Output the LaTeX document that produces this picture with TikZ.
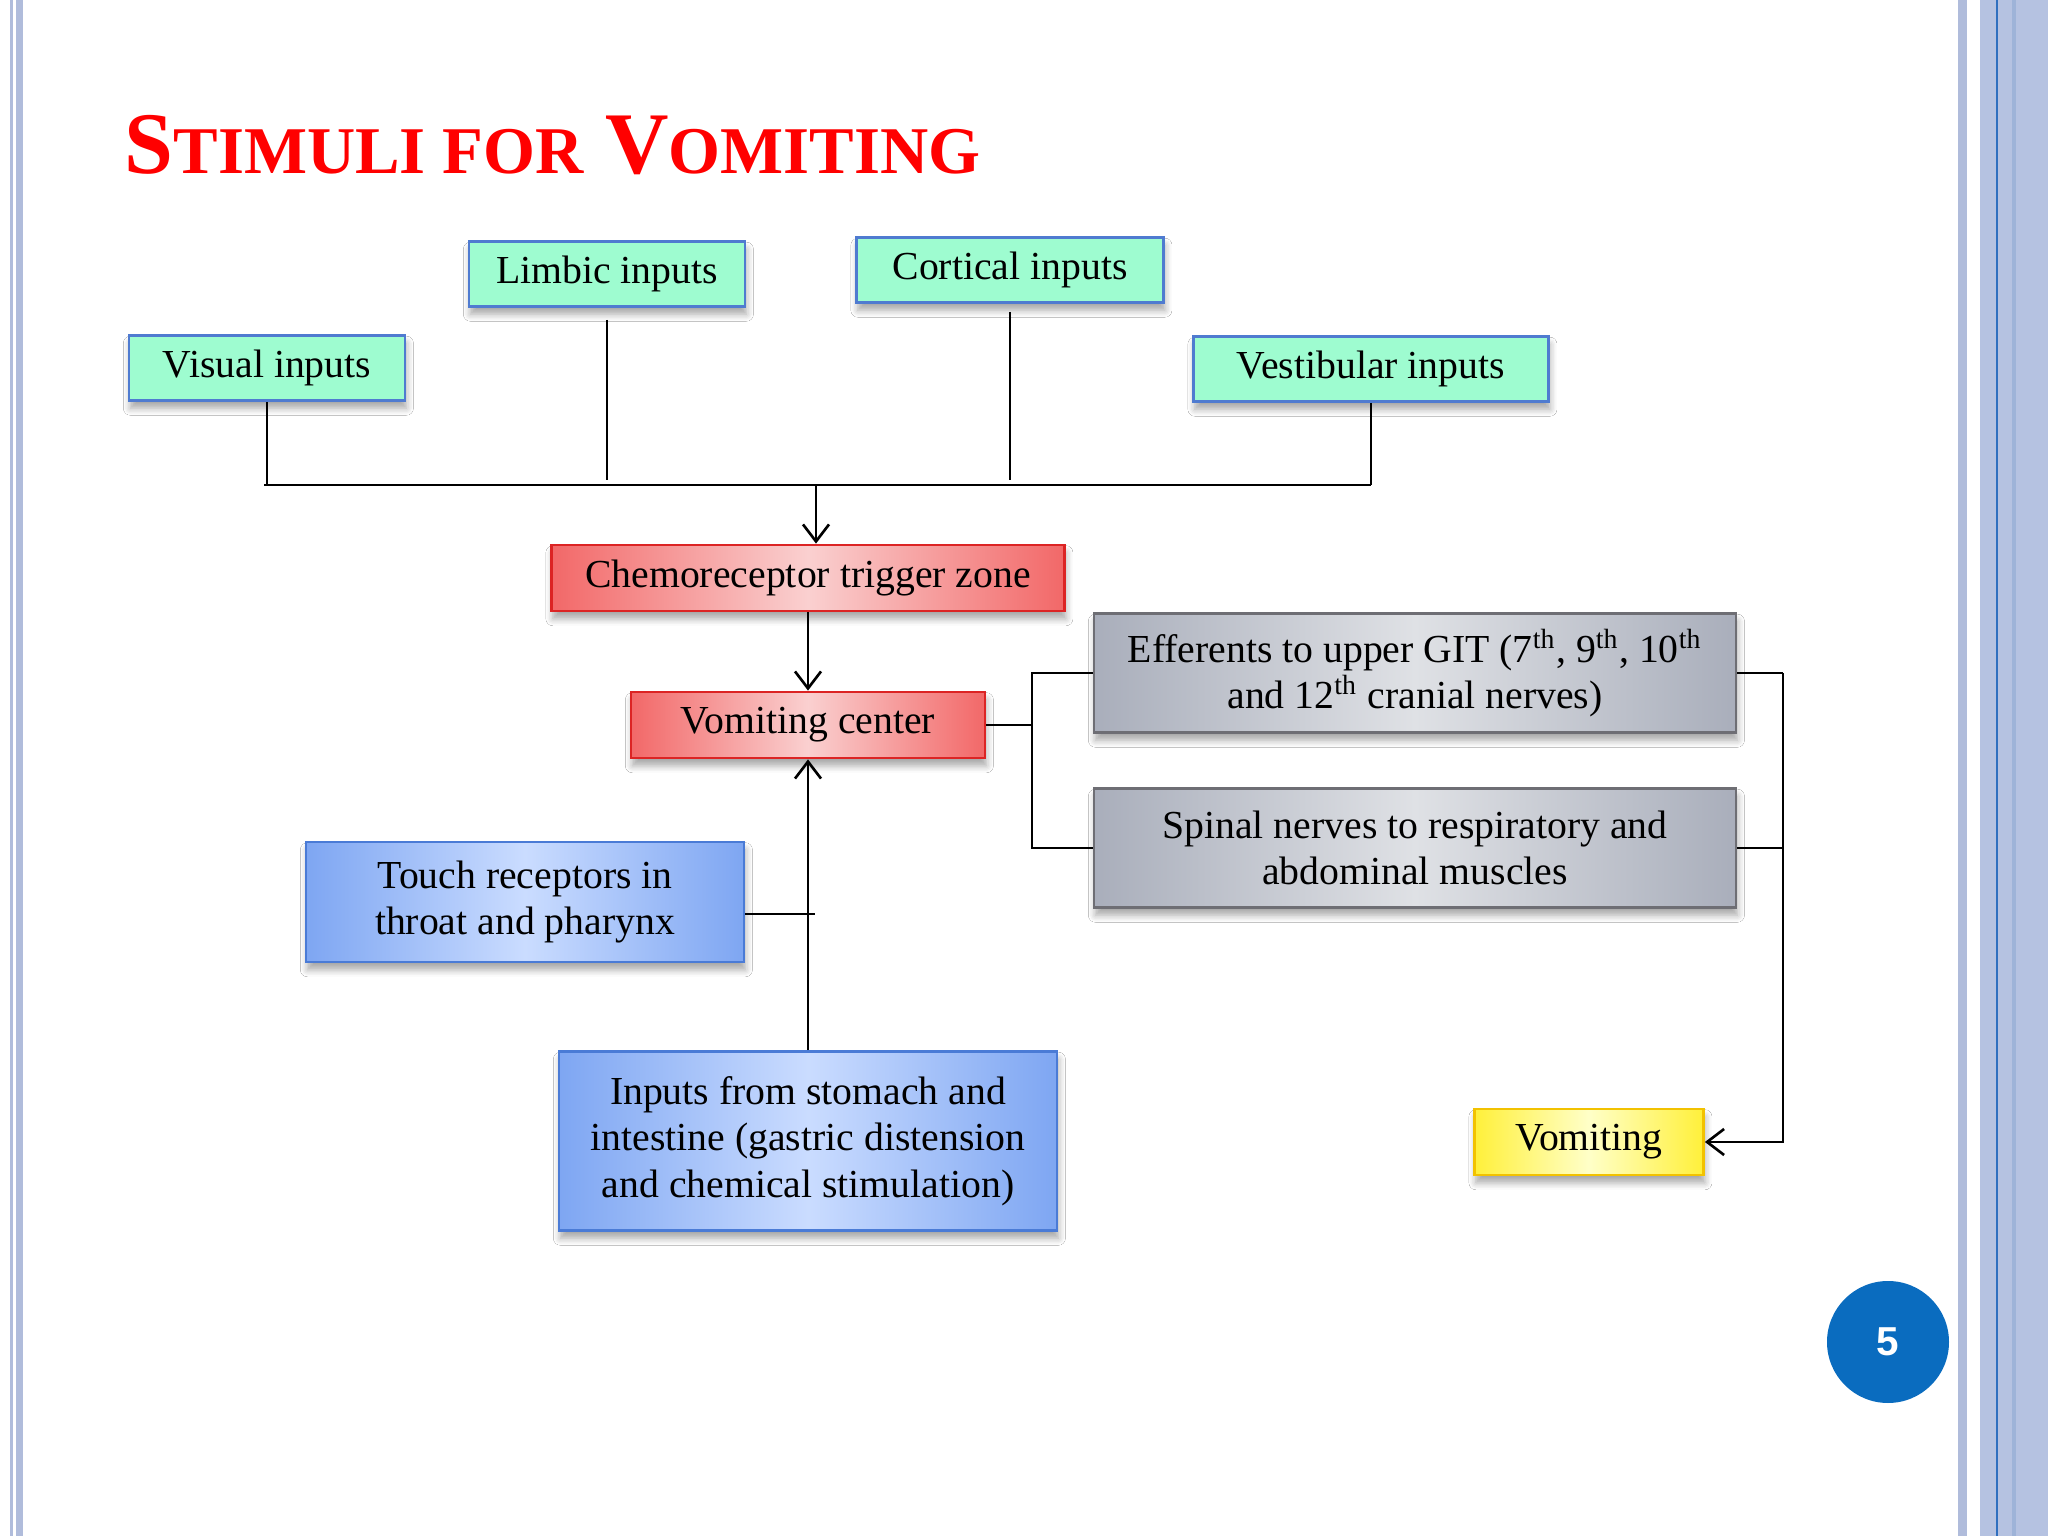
\documentclass[tikz,border=0pt]{standalone}
\usepackage{fontspec}
\setmainfont{Liberation Serif}
\newfontfamily\numfont{Liberation Sans}
\usepackage{xcolor}
\definecolor{titlered}{HTML}{FF0000}
\definecolor{frameblue}{HTML}{B0BCDB}
\definecolor{framewide}{HTML}{B5C2E1}
\definecolor{framedark}{HTML}{9EB3D8}
\definecolor{frameline}{HTML}{2F6FBF}
\definecolor{pageblue}{HTML}{0A6CBF}
\definecolor{mint}{HTML}{9EFCD0}
\definecolor{inputline}{HTML}{4F7BD0}
\definecolor{centreedge}{HTML}{F26868}
\definecolor{centremid}{HTML}{FAD0D0}
\definecolor{centreline}{HTML}{DC2424}
\definecolor{afferentedge}{HTML}{7EA6F2}
\definecolor{afferentmid}{HTML}{CADCFF}
\definecolor{afferentline}{HTML}{4A7BD6}
\definecolor{efferentedge}{HTML}{A9AEBB}
\definecolor{efferentmid}{HTML}{DFE1E5}
\definecolor{efferentline}{HTML}{6E6E74}
\definecolor{outcomeedge}{HTML}{FFF03A}
\definecolor{outcomemid}{HTML}{FFFFC8}
\definecolor{outcomeline}{HTML}{F2C200}
\usetikzlibrary{arrows.meta, positioning, calc, shadows.blur}

\newcommand{\smallcap}[1]{{\fontsize{19}{20}\selectfont #1}}

\begin{document}
\begin{tikzpicture}[
        x=1cm, y=-1cm,
        font=\fontsize{11.3}{13.3}\selectfont,
        link/.style={line width=0.75pt, black},
        arrow_link/.style={link, -{Straight Barb[length=0.17cm, width=0.26cm, line width=0.75pt]}},
        box/.style={
            rectangle,
            draw,
            line width=0.8pt,
            align=center,
            inner sep=2pt,
            blur shadow={shadow xshift=0.4pt, shadow yshift=-2.2pt, shadow blur steps=5, shadow blur radius=2pt, shadow opacity=35}
        },
        input_box/.style={box, draw=inputline, fill=mint, minimum height=0.65cm},
        centre_box/.style={box, draw=centreline, left color=centreedge, right color=centreedge, middle color=centremid, minimum height=0.66cm},
        afferent_box/.style={box, draw=afferentline, left color=afferentedge, right color=afferentedge, middle color=afferentmid},
        efferent_box/.style={box, draw=efferentline, left color=efferentedge, right color=efferentedge, middle color=efferentmid, minimum width=6.42cm, minimum height=1.19cm},
        outcome_box/.style={box, draw=outcomeline, left color=outcomeedge, right color=outcomeedge, middle color=outcomemid, minimum height=0.66cm}
    ]

    % Slide background and frame
    \useasboundingbox (0,0) rectangle (20.48,15.36);
    \fill[white] (0,0) rectangle (20.48,15.36);
    \fill[frameblue] (0.10,0) rectangle (0.13,15.36);
    \fill[frameblue] (0.16,0) rectangle (0.23,15.36);
    \fill[frameblue] (19.58,0) rectangle (19.67,15.36);
    \fill[framewide] (19.80,0) rectangle (20.48,15.36);
    \fill[framedark] (20.12,0) rectangle (20.16,15.36);
    \fill[frameline] (19.96,0) rectangle (19.98,15.36);

    % Title
    \node[anchor=base west, inner sep=0pt, text=titlered, font=\bfseries\fontsize{25}{28}\selectfont] (title) at (1.24,1.74) {S\smallcap{TIMULI FOR} V\smallcap{OMITING}};

    % Higher centre inputs
    \node[input_box, minimum width=2.76cm] (visual) at (2.67,3.68) {Visual inputs};
    \node[input_box, minimum width=2.76cm] (limbic) at (6.07,2.74) {Limbic inputs};
    \node[input_box, minimum width=3.07cm] (cortical) at (10.10,2.70) {Cortical inputs};
    \node[input_box, minimum width=3.55cm] (vestibular) at (13.71,3.69) {Vestibular inputs};

    % Central boxes
    \node[centre_box, minimum width=5.13cm] (ctz) at (8.08,5.78) {Chemoreceptor trigger zone};
    \node[centre_box, minimum width=3.54cm] (vc) at (8.08,7.25) {Vomiting center};

    % Afferents
    \node[afferent_box, minimum width=4.38cm, minimum height=1.20cm] (touch) at (5.25,9.02) {Touch receptors in\\throat and pharynx};
    \node[afferent_box, minimum width=4.98cm, minimum height=1.79cm] (gut) at (8.08,11.41) {Inputs from stomach and\\intestine (gastric distension\\and chemical stimulation)};

    % Efferents and outcome
    \node[efferent_box] (cranial) at (14.15,6.73) {Efferents to upper GIT (7\textsuperscript{th}, 9\textsuperscript{th}, 10\textsuperscript{th}\\and 12\textsuperscript{th} cranial nerves)};
    \node[efferent_box] (spinal) at (14.15,8.48) {Spinal nerves to respiratory and\\abdominal muscles};
    \node[outcome_box, minimum width=2.29cm] (vomiting) at (15.89,11.42) {Vomiting};

    % Input bus
    \coordinate (bus_left) at (2.64,4.85);
    \coordinate (bus_right) at (13.71,4.85);
    \coordinate (bus_drop) at (8.16,4.85);
    \draw[link] (bus_left) -- (bus_right);
    \draw[link] (visual.south) -- (visual.south |- bus_left);
    \draw[link, shorten <=0.12cm, shorten >=0.05cm] (limbic.south) -- (limbic.south |- bus_left);
    \draw[link, shorten <=0.08cm, shorten >=0.05cm] (cortical.south) -- (cortical.south |- bus_left);
    \draw[link] (vestibular.south) -- (bus_right);
    \draw[arrow_link] (bus_drop) -- (bus_drop |- ctz.north);

    % Into the vomiting centre
    \draw[arrow_link] (ctz.south) -- (vc.north);
    \draw[arrow_link] (gut.north) -- (vc.south);
    \draw[link] ($(touch.east)+(0,0.12)$) -- ++(0.70,0);

    % Out of the vomiting centre
    \coordinate (split) at (10.32,7.25);
    \coordinate (merge) at (17.83,6.75);
    \draw[link] (vc.east) -- (split);
    \draw[link] (cranial.west) -- (cranial.west -| split) -- (spinal.west -| split) -- (spinal.west);
    \draw[link] (cranial.east) -- (cranial.east -| merge);
    \draw[link] (spinal.east) -- (spinal.east -| merge);
    \draw[arrow_link] (cranial.east -| merge) -- (vomiting.east -| merge) -- (vomiting.east);

    % Page number
    \node[circle, fill=pageblue, minimum size=1.22cm, inner sep=0pt, text=white, font=\numfont\bfseries\fontsize{11.5}{12}\selectfont] (page) at (18.88,13.42) {5};

\end{tikzpicture}
\end{document}
